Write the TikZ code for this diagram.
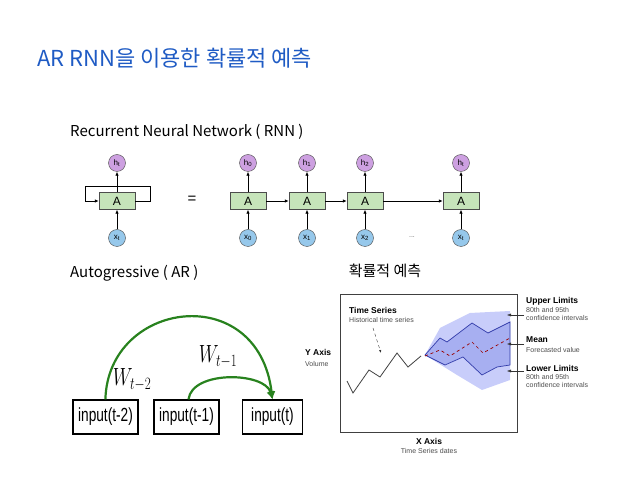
\documentclass[tikz,border=0pt]{standalone}
\usepackage{fontspec}
\setmainfont{Liberation Sans}
\newfontfamily\kr{Noto Sans CJK KR}
\usetikzlibrary{arrows.meta}
\definecolor{titleblue}{RGB}{31,91,196}
\definecolor{agreen}{RGB}{160,210,140}
\definecolor{hpurple}{RGB}{205,160,225}
\definecolor{xblue}{RGB}{150,200,235}
\definecolor{arcgreen}{RGB}{40,130,30}
\definecolor{bandlight}{RGB}{200,205,250}
\definecolor{banddark}{RGB}{130,140,235}
\definecolor{bandline}{RGB}{50,60,170}
\tikzset{
 abox/.style={draw=black!70,fill=agreen!60,minimum width=36pt,minimum height=17pt,inner sep=0pt,font=\fontsize{12}{12}\selectfont},
 hc/.style={circle,draw=black!70,fill=hpurple,minimum size=17pt,inner sep=0pt,font=\fontsize{8}{8}\selectfont},
 xc/.style={circle,draw=black!70,fill=xblue,minimum size=17pt,inner sep=0pt,font=\fontsize{8}{8}\selectfont},
 arr/.style={-{Latex[length=4pt,width=3.5pt]},thick},
 inbox/.style={draw,line width=1.2pt,minimum width=65pt,minimum height=34pt,inner sep=0pt,font=\fontsize{19}{19}\selectfont},
 garc/.style={draw=arcgreen,line width=2.2pt},
 ctb/.style={anchor=west,font=\bfseries\fontsize{8.5}{9}\selectfont,inner sep=0pt},
 cts/.style={anchor=west,font=\fontsize{7}{8}\selectfont,text=black!70,inner sep=0pt},
}
\begin{document}
\begin{tikzpicture}[x=1pt,y=-1pt]
\useasboundingbox (0,0) rectangle (638,478);
\node[anchor=west,text=titleblue,font=\kr\fontsize{22}{22}\selectfont,inner sep=0pt] (title) at (37,58) {AR RNN을 이용한 확률적 예측};
\node[anchor=west,font=\kr\fontsize{15}{15}\selectfont,inner sep=0pt] (rnnl) at (70,132) {Recurrent Neural Network ( RNN )};
% rolled
\node[abox] (A) at (117,201) {A};
\node[hc] (h) at (117,163) {h\textsubscript{t}};
\node[xc] (x) at (117,238) {x\textsubscript{t}};
\draw[arr] (x) -- (A);
\draw[arr] (A) -- (h);
\coordinate (l1) at (150,201); \coordinate (l2) at (150,186); \coordinate (l3) at (85,186); \coordinate (l4) at (85,201);
\draw[arr] (A.east) -- (l1) -- (l2) -- (l3) -- (l4) -- (A.west);
\node[font=\fontsize{15}{15}\selectfont] (eq) at (192,200) {=};
% unrolled
\foreach \n/\xx/\s in {0/248/0,1/307/1,2/365/2,3/461/t}{
 \node[abox] (A\n) at (\xx,201) {A};
 \node[hc] (h\n) at (\xx,163) {h\textsubscript{\s}};
 \node[xc] (x\n) at (\xx,238) {x\textsubscript{\s}};
 \draw[arr] (x\n) -- (A\n);
 \draw[arr] (A\n) -- (h\n);
}
\draw[arr] (A0) -- (A1); \draw[arr] (A1) -- (A2); \draw[arr] (A2) -- (A3);
\node[font=\fontsize{7}{7}\selectfont,text=black!60] (dots) at (412,237) {...};
% AR
\node[anchor=west,font=\kr\fontsize{15}{15}\selectfont,inner sep=0pt] (arl) at (70,273) {Autogressive ( AR )};
\node[font=\kr\fontsize{15}{15}\selectfont,inner sep=0pt] (prl) at (385,271) {확률적 예측};
\node[inbox] (i2) at (105.5,417) {\scalebox{0.72}[1]{input(t-2)}};
\node[inbox] (i1) at (186.5,417) {\scalebox{0.72}[1]{input(t-1)}};
\node[inbox,minimum width=60pt] (i0) at (272.5,417) {\scalebox{0.72}[1]{input(t)}};
\draw[garc,-{Latex[length=8pt,width=8pt]}] (i2.north west) ++(33,0) coordinate(s2) (s2) .. controls (108,300) and (258,280) .. (i0.north);
\draw[garc,-{Latex[length=8pt,width=8pt]}] ([xshift=2pt]i1.north) .. controls (192,370) and (265,372) .. (i0.north);
\node[font=\fontsize{26}{26}\selectfont] (w2) at (132,380) {\scalebox{0.75}[1]{$W_{t-2}$}};
\node[font=\fontsize{26}{26}\selectfont] (w1) at (218,357) {\scalebox{0.75}[1]{$W_{t-1}$}};
% chart
\draw[black!75,line width=0.8pt] (340,294) rectangle (517,432);
\fill[bandlight] (425,355) -- (440,328) -- (470,313) -- (510,311) -- (510,380) -- (482,390) -- (457,375) -- cycle;
\filldraw[fill=banddark!70,draw=bandline,line width=0.7pt] (425,355) -- (440,338) -- (447,342) -- (472,323) -- (488,333) -- (510,322) -- (510,365) -- (497,367) -- (482,375) -- (463,357) -- (445,365) -- cycle;
\draw[red!60!black,dashed,line width=0.7pt] (425,356) -- (440,350) -- (450,356) -- (472,342) -- (483,353) -- (510,338);
\draw[black!75,line width=0.8pt] (347,381) -- (353,393) -- (369,370) -- (380,377) -- (397,353) -- (408,367) -- (421,356);
\node[ctb] (ts) at (349,310) {Time Series};
\node[cts] (tss) at (349,320) {Historical time series};
\coordinate (tsa) at (373,328); \coordinate (tsb) at (381,353);
\draw[dashed,-{Latex[length=3pt]},black!80] (tsa) -- (tsb);
\node[ctb] (ul) at (526,301) {Upper Limits};
\node[cts,align=left,anchor=north west] (uls) at (526,307) {80th and 95th\\confidence intervals};
\node[ctb] (mn) at (526,340) {Mean};
\node[cts] (mns) at (526,350) {Forecasted value};
\node[ctb] (ll) at (526,368) {Lower Limits};
\node[cts,align=left,anchor=north west] (lls) at (526,374) {80th and 95th\\confidence intervals};
\foreach \yy/\nm in {315/a,344/b,371/c}{
 \coordinate (s\nm) at (524,\yy); \coordinate (e\nm) at (507,\yy);
 \draw[-{Latex[length=4pt]},black!80] (s\nm) -- (e\nm);
}
\node[ctb] (ya) at (305,352) {Y Axis};
\node[cts] (yas) at (305,364) {Volume};
\node[ctb,anchor=center] (xa) at (429,441) {X Axis};
\node[cts,anchor=center] (xas) at (429,451) {Time Series dates};
\end{tikzpicture}
\end{document}
